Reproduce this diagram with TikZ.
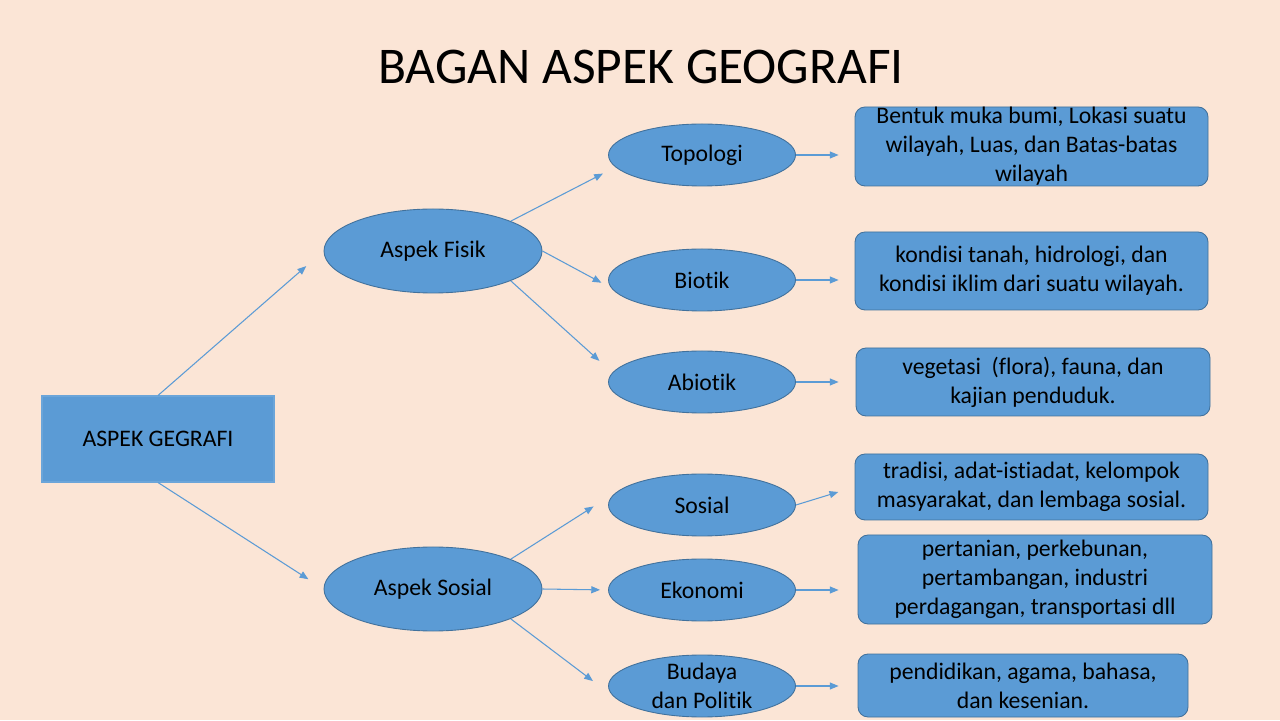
\documentclass[tikz,border=0pt]{standalone}
\usepackage{fontspec}
\setmainfont{Carlito}[RawFeature={-liga;-clig;-dlig}]
\usetikzlibrary{shapes.geometric,arrows.meta}
\definecolor{bgpeach}{HTML}{FBE5D6}
\definecolor{nodeblue}{HTML}{5B9BD5}
\definecolor{edgeblue}{HTML}{41719C}

\begin{document}
\begin{tikzpicture}[
        % 定義通用樣式
        root box/.style={rectangle, fill=nodeblue, draw=nodeblue!90!white, line width=0.6pt,
            minimum width=4.64cm, minimum height=1.72cm, inner sep=0pt}, % 主題方塊
        big oval/.style={ellipse, fill=nodeblue, draw=edgeblue, line width=0.5pt,
            minimum width=4.36cm, minimum height=1.68cm, inner sep=0pt}, % 大橢圓
        small oval/.style={ellipse, fill=nodeblue, draw=edgeblue, line width=0.5pt,
            minimum width=3.74cm, minimum height=1.24cm, inner sep=0pt}, % 小橢圓
        info box/.style={rectangle, rounded corners=0.2cm, fill=nodeblue, draw=edgeblue,
            line width=0.5pt, inner sep=0pt, align=center}, % 說明方塊
        link/.style={draw=nodeblue, line width=0.6pt,
            -{Triangle[length=5pt,width=4pt]}}, % 箭頭樣式
        body text/.style={font=\fontsize{13.5}{16.5}\selectfont} % 文字大小
    ]

        % --- 背景 ---
        \fill[bgpeach] (0,0) rectangle (25.6,14.4);

        % 1. 標題
        \node[anchor=base, font=\fontsize{29.3}{35}\selectfont] (title) at (12.82,12.72) {BAGAN ASPEK GEOGRAFI};

        % 2. 主題與兩大面向
        \node[root box, body text] (gegrafi) at (3.16,5.62) {ASPEK GEGRAFI};
        \node[big oval, body text] (fisik) at (8.66,9.38) {Aspek Fisik};
        \node[big oval, body text] (sosialA) at (8.66,2.62) {Aspek Sosial};

        % 3. 小橢圓
        \node[small oval, body text] (topologi) at (14.04,11.30) {Topologi};
        \node[small oval, body text] (biotik) at (14.04,8.80) {Biotik};
        \node[small oval, body text] (abiotik) at (14.04,6.76) {Abiotik};
        \node[small oval, body text] (sosial) at (14.04,4.30) {Sosial};
        \node[small oval, body text] (ekonomi) at (14.04,2.60) {Ekonomi};
        \node[small oval, label={[body text, align=center]center:Budaya\\dan Politik}] (budaya) at (14.04,0.68) {};

        % 4. 說明方塊
        \node[info box, body text, minimum width=7.06cm, minimum height=1.58cm] (box1) at (20.63,11.47)
            {Bentuk muka bumi, Lokasi suatu\\wilayah, Luas, dan Batas-batas\\wilayah};
        \node[info box, body text, minimum width=7.06cm, minimum height=1.56cm] (box2) at (20.63,8.98)
            {kondisi tanah, hidrologi, dan\\kondisi iklim dari suatu wilayah.};
        \node[info box, body text, minimum width=7.08cm, minimum height=1.36cm] (box3) at (20.66,6.76)
            {vegetasi\ \ (flora), fauna, dan\\kajian penduduk.};
        \node[info box, body text, minimum width=7.06cm, minimum height=1.32cm] (box4) at (20.63,4.66)
            {tradisi, adat-istiadat, kelompok\\masyarakat, dan lembaga sosial.};
        \node[info box, body text, minimum width=7.08cm, minimum height=1.78cm] (box5) at (20.70,2.81)
            {pertanian, perkebunan,\\pertambangan, industri\\perdagangan, transportasi dll};
        \node[info box, body text, minimum width=6.60cm, minimum height=1.26cm] (box6) at (20.46,0.69)
            {pendidikan, agama, bahasa,\\dan kesenian.};

        % 5. 箭頭 (主題 -> 面向)
        \draw[link, shorten >=0.46cm] (gegrafi.north) -- (fisik.west);
        \draw[link, shorten >=0.36cm] (gegrafi.south) -- (sosialA.west);

        % 6. 箭頭 (面向 -> 小橢圓)
        \draw[link, shorten >=0.28cm] (fisik.21) -- (topologi.188);
        \draw[link, shorten >=0.22cm] (fisik.east) -- (biotik.185);
        \draw[link, shorten >=0.35cm] (fisik.-21) -- (abiotik.174);
        \draw[link, shorten >=0.6cm] (sosialA.21) -- (sosial.170);
        \draw[link, shorten >=0.16cm] (sosialA.east) -- (ekonomi.west);
        \draw[link, shorten >=0.65cm] (sosialA.-21) -- (budaya.190);

        % 7. 箭頭 (小橢圓 -> 說明)
        \draw[link, shorten >=0.32cm] (topologi.east) -- (topologi.east -| box1.west);
        \draw[link, shorten >=0.32cm] (biotik.east) -- (biotik.east -| box2.west);
        \draw[link, shorten >=0.34cm] (abiotik.east) -- (abiotik.east -| box3.west);
        \draw[link, shorten >=0.34cm] (sosial.east) -- (box4.west);
        \draw[link, shorten >=0.38cm] (ekonomi.east) -- (ekonomi.east -| box5.west);
        \draw[link, shorten >=0.38cm] (budaya.east) -- (budaya.east -| box6.west);

    \end{tikzpicture}
\end{document}
